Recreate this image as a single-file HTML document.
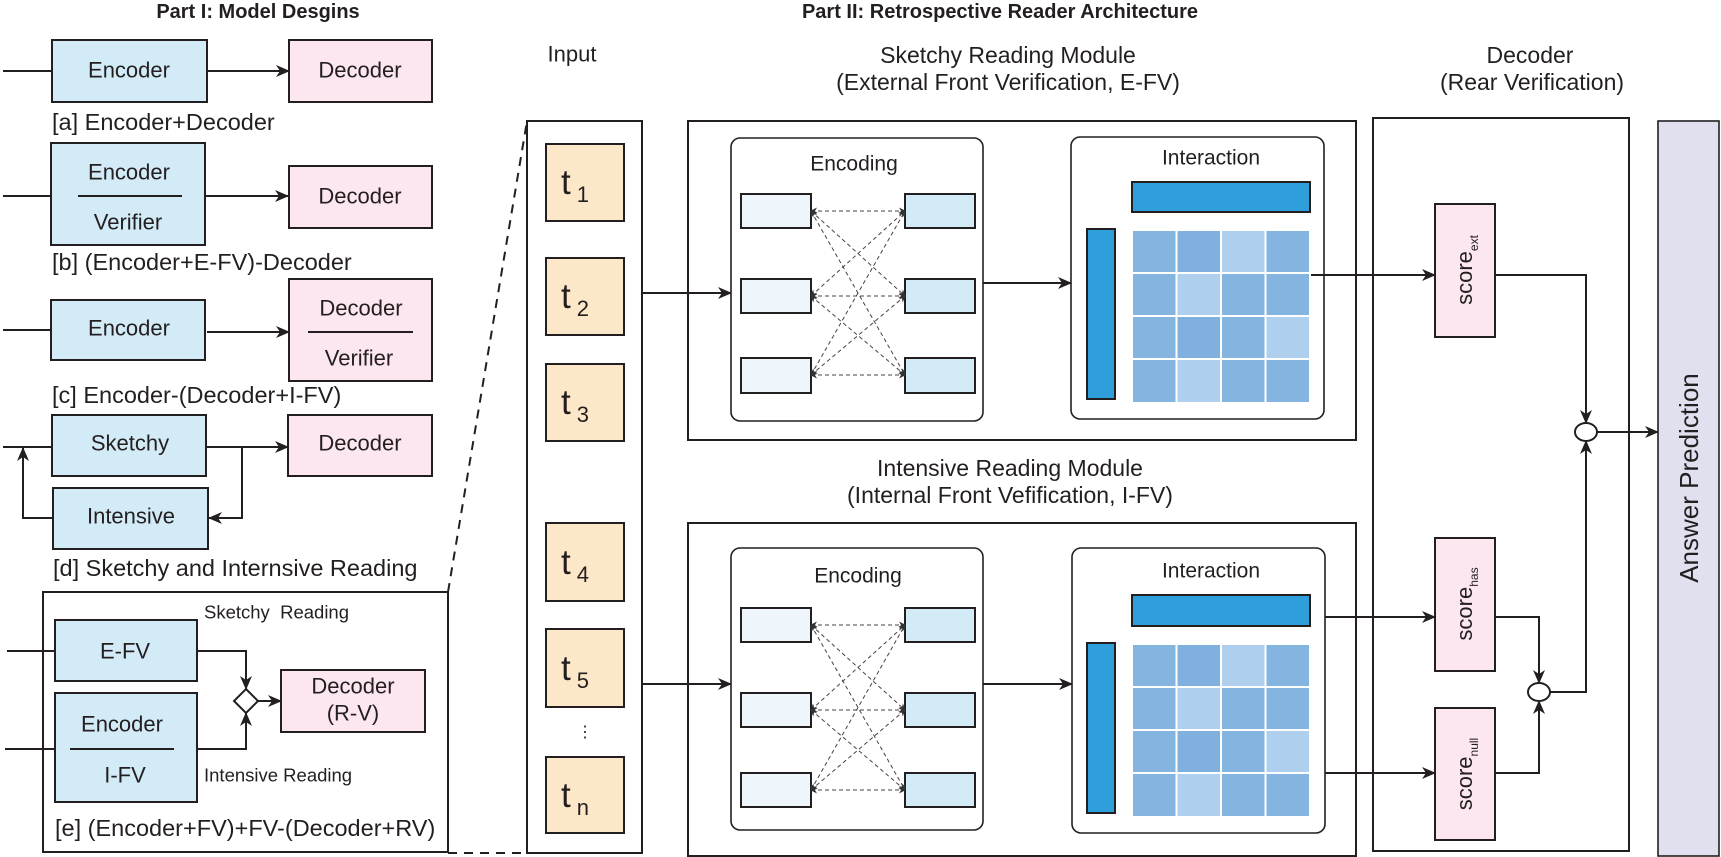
<!DOCTYPE html>
<html><head><meta charset="utf-8"><style>
html,body{margin:0;padding:0;background:#fff}
svg{display:block}
text{font-family:"Liberation Sans",Arial,sans-serif;fill:#231f20}
</style></head><body>
<svg width="1721" height="857" viewBox="0 0 1721 857" xmlns="http://www.w3.org/2000/svg">
<defs>
<marker id="ar" markerUnits="userSpaceOnUse" markerWidth="14" markerHeight="12" refX="13" refY="6" orient="auto">
<path d="M0,0 L14,6 L0,12 L4,6 z" fill="#231f20"/></marker>
<marker id="sm" markerUnits="userSpaceOnUse" markerWidth="7" markerHeight="7" refX="6" refY="3.5" orient="auto-start-reverse">
<path d="M0,0 L7,3.5 L0,7 L2,3.5 z" fill="#333"/></marker>
</defs>
<g stroke="#231f20" stroke-width="2" fill="none">
<line x1="3" y1="71" x2="52" y2="71"/>
<rect x="52" y="40" width="155" height="62" fill="#d3ebf7"/>
<line x1="207" y1="71" x2="289" y2="71" marker-end="url(#ar)"/>
<rect x="289" y="40" width="143" height="62" fill="#fce6f0"/>

<line x1="3" y1="196" x2="51" y2="196"/>
<rect x="51" y="143" width="154" height="102" fill="#d3ebf7"/>
<line x1="78" y1="196" x2="182" y2="196"/>
<line x1="205" y1="196" x2="288" y2="196" marker-end="url(#ar)"/>
<rect x="289" y="166" width="143" height="62" fill="#fce6f0"/>

<line x1="3" y1="330" x2="51" y2="330"/>
<rect x="51" y="300" width="154" height="60" fill="#d3ebf7"/>
<line x1="207" y1="332" x2="289" y2="332" marker-end="url(#ar)"/>
<rect x="289" y="279" width="143" height="102" fill="#fce6f0"/>
<line x1="308" y1="332" x2="413" y2="332"/>

<line x1="3" y1="447" x2="52" y2="447"/>
<rect x="52" y="415" width="154" height="61" fill="#d3ebf7"/>
<line x1="206" y1="447" x2="288" y2="447" marker-end="url(#ar)"/>
<rect x="288" y="415" width="144" height="61" fill="#fce6f0"/>
<rect x="53" y="488" width="155" height="61" fill="#d3ebf7"/>
<polyline points="242,447 242,518 209,518" marker-end="url(#ar)"/>
<polyline points="53,518 23,518 23,448" marker-end="url(#ar)"/>

<rect x="43" y="592" width="405" height="260"/>
<line x1="7" y1="651" x2="55" y2="651"/>
<line x1="5" y1="749" x2="55" y2="749"/>
<rect x="55" y="620" width="142" height="61" fill="#d3ebf7"/>
<rect x="55" y="693" width="142" height="109" fill="#d3ebf7"/>
<line x1="70" y1="749" x2="174" y2="749"/>
<polyline points="197,651 246,651 246,689" marker-end="url(#ar)"/>
<polyline points="197,749 246,749 246,713" marker-end="url(#ar)"/>
<polygon points="246,689 258,701 246,713 234,701" fill="#fff"/>
<line x1="258" y1="701" x2="281" y2="701" marker-end="url(#ar)"/>
<rect x="281" y="670" width="144" height="62" fill="#fce6f0"/>

<line x1="448" y1="592" x2="527" y2="121" stroke-dasharray="9,7"/>
<line x1="448" y1="853" x2="527" y2="853" stroke-dasharray="9,7"/>

<rect x="527" y="121" width="115" height="732"/>
<g fill="#fce8c8">
<rect x="546" y="144" width="78" height="77"/>
<rect x="546" y="258" width="78" height="77"/>
<rect x="546" y="364" width="78" height="77"/>
<rect x="546" y="523" width="78" height="78"/>
<rect x="546" y="629" width="78" height="78"/>
<rect x="546" y="757" width="78" height="76"/>
</g>

<rect x="688" y="121" width="668" height="319"/>
<rect x="688" y="523" width="668" height="333"/>
<line x1="642" y1="293" x2="731" y2="293" marker-end="url(#ar)"/>
<line x1="642" y1="684" x2="731" y2="684" marker-end="url(#ar)"/>
<rect x="731" y="138" width="252" height="283" rx="9" stroke-width="1.6"/>
<rect x="731" y="548" width="252" height="282" rx="9" stroke-width="1.6"/>
<line x1="983" y1="283" x2="1071" y2="283" marker-end="url(#ar)"/>
<line x1="983" y1="684" x2="1072" y2="684" marker-end="url(#ar)"/>
<rect x="1071" y="137" width="253" height="282" rx="9" stroke-width="1.6"/>
<rect x="1072" y="548" width="253" height="285" rx="9" stroke-width="1.6"/>

<g fill="#eef6fc">
<rect x="741" y="194" width="70" height="34"/><rect x="741" y="279" width="70" height="34"/><rect x="741" y="358" width="70" height="35"/>
<rect x="741" y="608" width="70" height="34"/><rect x="741" y="693" width="70" height="34"/><rect x="741" y="773" width="70" height="34"/>
</g>
<g fill="#d3ebf7">
<rect x="905" y="194" width="70" height="34"/><rect x="905" y="279" width="70" height="34"/><rect x="905" y="358" width="70" height="35"/>
<rect x="905" y="608" width="70" height="34"/><rect x="905" y="693" width="70" height="34"/><rect x="905" y="773" width="70" height="34"/>
</g>
<g fill="#2e9fda">
<rect x="1132" y="182" width="178" height="30"/><rect x="1087" y="229" width="28" height="170"/>
<rect x="1132" y="595" width="178" height="31"/><rect x="1087" y="643" width="28" height="170"/>
</g>

<rect x="1373" y="118" width="256" height="733"/>
<rect x="1435" y="204" width="60" height="133" fill="#fce6f0"/>
<rect x="1435" y="538" width="60" height="133" fill="#fce6f0"/>
<rect x="1435" y="708" width="60" height="132" fill="#fce6f0"/>
<line x1="1310" y1="275" x2="1435" y2="275" marker-end="url(#ar)"/>
<line x1="1325" y1="617" x2="1435" y2="617" marker-end="url(#ar)"/>
<line x1="1325" y1="773" x2="1435" y2="773" marker-end="url(#ar)"/>
<polyline points="1495,275 1586,275 1586,423" marker-end="url(#ar)"/>
<polyline points="1495,617 1539,617 1539,683" marker-end="url(#ar)"/>
<polyline points="1495,773 1539,773 1539,701" marker-end="url(#ar)"/>
<polyline points="1550,692 1586,692 1586,441" marker-end="url(#ar)"/>
<ellipse cx="1586" cy="432" rx="11" ry="9" fill="#fff"/>
<ellipse cx="1539" cy="692" rx="11" ry="9" fill="#fff"/>
<line x1="1597" y1="432" x2="1658" y2="432" marker-end="url(#ar)"/>
<rect x="1658" y="121" width="61" height="735" fill="#e0e0ee" stroke-width="1.6"/>
</g>

<g stroke="#444" stroke-width="1" stroke-dasharray="4,3" fill="none">
<line x1="811" y1="211" x2="905" y2="211" marker-start="url(#sm)" marker-end="url(#sm)"/>
<line x1="811" y1="211" x2="905" y2="296" marker-start="url(#sm)" marker-end="url(#sm)"/>
<line x1="811" y1="211" x2="905" y2="375" marker-start="url(#sm)" marker-end="url(#sm)"/>
<line x1="811" y1="296" x2="905" y2="211" marker-start="url(#sm)" marker-end="url(#sm)"/>
<line x1="811" y1="296" x2="905" y2="296" marker-start="url(#sm)" marker-end="url(#sm)"/>
<line x1="811" y1="296" x2="905" y2="375" marker-start="url(#sm)" marker-end="url(#sm)"/>
<line x1="811" y1="375" x2="905" y2="211" marker-start="url(#sm)" marker-end="url(#sm)"/>
<line x1="811" y1="375" x2="905" y2="296" marker-start="url(#sm)" marker-end="url(#sm)"/>
<line x1="811" y1="375" x2="905" y2="375" marker-start="url(#sm)" marker-end="url(#sm)"/>
<line x1="811" y1="625" x2="905" y2="625" marker-start="url(#sm)" marker-end="url(#sm)"/>
<line x1="811" y1="625" x2="905" y2="710" marker-start="url(#sm)" marker-end="url(#sm)"/>
<line x1="811" y1="625" x2="905" y2="790" marker-start="url(#sm)" marker-end="url(#sm)"/>
<line x1="811" y1="710" x2="905" y2="625" marker-start="url(#sm)" marker-end="url(#sm)"/>
<line x1="811" y1="710" x2="905" y2="710" marker-start="url(#sm)" marker-end="url(#sm)"/>
<line x1="811" y1="710" x2="905" y2="790" marker-start="url(#sm)" marker-end="url(#sm)"/>
<line x1="811" y1="790" x2="905" y2="625" marker-start="url(#sm)" marker-end="url(#sm)"/>
<line x1="811" y1="790" x2="905" y2="710" marker-start="url(#sm)" marker-end="url(#sm)"/>
<line x1="811" y1="790" x2="905" y2="790" marker-start="url(#sm)" marker-end="url(#sm)"/>
</g>

<g stroke="#fff" stroke-width="2">
<rect x="1132" y="230" width="44.5" height="43" fill="#84b4e0"/><rect x="1176.5" y="230" width="44.5" height="43" fill="#80b1de"/><rect x="1221" y="230" width="44.5" height="43" fill="#aecfee"/><rect x="1265.5" y="230" width="44.5" height="43" fill="#84b4e0"/>
<rect x="1132" y="273" width="44.5" height="43" fill="#84b4e0"/><rect x="1176.5" y="273" width="44.5" height="43" fill="#aecfee"/><rect x="1221" y="273" width="44.5" height="43" fill="#84b4e0"/><rect x="1265.5" y="273" width="44.5" height="43" fill="#84b4e0"/>
<rect x="1132" y="316" width="44.5" height="43" fill="#84b4e0"/><rect x="1176.5" y="316" width="44.5" height="43" fill="#80b1de"/><rect x="1221" y="316" width="44.5" height="43" fill="#84b4e0"/><rect x="1265.5" y="316" width="44.5" height="43" fill="#aecfee"/>
<rect x="1132" y="359" width="44.5" height="44" fill="#84b4e0"/><rect x="1176.5" y="359" width="44.5" height="44" fill="#aecfee"/><rect x="1221" y="359" width="44.5" height="44" fill="#84b4e0"/><rect x="1265.5" y="359" width="44.5" height="44" fill="#84b4e0"/>

<rect x="1132" y="644" width="44.5" height="43" fill="#84b4e0"/><rect x="1176.5" y="644" width="44.5" height="43" fill="#80b1de"/><rect x="1221" y="644" width="44.5" height="43" fill="#aecfee"/><rect x="1265.5" y="644" width="44.5" height="43" fill="#84b4e0"/>
<rect x="1132" y="687" width="44.5" height="43" fill="#84b4e0"/><rect x="1176.5" y="687" width="44.5" height="43" fill="#aecfee"/><rect x="1221" y="687" width="44.5" height="43" fill="#84b4e0"/><rect x="1265.5" y="687" width="44.5" height="43" fill="#84b4e0"/>
<rect x="1132" y="730" width="44.5" height="43" fill="#84b4e0"/><rect x="1176.5" y="730" width="44.5" height="43" fill="#80b1de"/><rect x="1221" y="730" width="44.5" height="43" fill="#84b4e0"/><rect x="1265.5" y="730" width="44.5" height="43" fill="#aecfee"/>
<rect x="1132" y="773" width="44.5" height="44" fill="#84b4e0"/><rect x="1176.5" y="773" width="44.5" height="44" fill="#aecfee"/><rect x="1221" y="773" width="44.5" height="44" fill="#84b4e0"/><rect x="1265.5" y="773" width="44.5" height="44" fill="#84b4e0"/>
</g>

<g font-size="23.5" dominant-baseline="central">
<text x="258" y="12" text-anchor="middle" font-weight="bold" font-size="20">Part I: Model Desgins</text>
<text x="1000" y="12" text-anchor="middle" font-weight="bold" font-size="20">Part II: Retrospective Reader Architecture</text>

<text x="129" y="70" text-anchor="middle" font-size="22">Encoder</text>
<text x="360" y="70" text-anchor="middle" font-size="22">Decoder</text>
<text x="52" y="122">[a] Encoder+Decoder</text>
<text x="129" y="172" text-anchor="middle" font-size="22">Encoder</text>
<text x="128" y="222" text-anchor="middle" font-size="22">Verifier</text>
<text x="360" y="196" text-anchor="middle" font-size="22">Decoder</text>
<text x="52" y="262">[b] (Encoder+E-FV)-Decoder</text>
<text x="129" y="328" text-anchor="middle" font-size="22">Encoder</text>
<text x="361" y="308" text-anchor="middle" font-size="22">Decoder</text>
<text x="359" y="358" text-anchor="middle" font-size="22">Verifier</text>
<text x="52" y="395">[c] Encoder-(Decoder+I-FV)</text>
<text x="130" y="443" text-anchor="middle" font-size="22">Sketchy</text>
<text x="360" y="443" text-anchor="middle" font-size="22">Decoder</text>
<text x="131" y="516" text-anchor="middle" font-size="22">Intensive</text>
<text x="53" y="568">[d] Sketchy and Internsive Reading</text>
<text x="204" y="612" font-size="18.5" xml:space="preserve">Sketchy  Reading</text>
<text x="125" y="651" text-anchor="middle" font-size="22">E-FV</text>
<text x="122" y="724" text-anchor="middle" font-size="22">Encoder</text>
<text x="125" y="775" text-anchor="middle" font-size="22">I-FV</text>
<text x="353" y="686" text-anchor="middle" font-size="22">Decoder</text>
<text x="353" y="713" text-anchor="middle" font-size="22">(R-V)</text>
<text x="204" y="775" font-size="18.5">Intensive Reading</text>
<text x="55" y="828">[e] (Encoder+FV)+FV-(Decoder+RV)</text>

<text x="572" y="54" text-anchor="middle" font-size="22">Input</text>
<text x="1008" y="55" text-anchor="middle" font-size="23">Sketchy Reading Module</text>
<text x="1008" y="82" text-anchor="middle" font-size="23">(External Front Verification, E-FV)</text>
<text x="1010" y="468" text-anchor="middle" font-size="23">Intensive Reading Module</text>
<text x="1010" y="495" text-anchor="middle" font-size="23">(Internal Front Vefification, I-FV)</text>
<text x="1530" y="55" text-anchor="middle" font-size="23">Decoder</text>
<text x="1532" y="82" text-anchor="middle" font-size="23">(Rear Verification)</text>
<text x="854" y="164" text-anchor="middle" font-size="21">Encoding</text>
<text x="858" y="576" text-anchor="middle" font-size="21">Encoding</text>
<text x="1211" y="158" text-anchor="middle" font-size="21">Interaction</text>
<text x="1211" y="571" text-anchor="middle" font-size="21">Interaction</text>
</g>
<g font-size="35">
<text x="575" y="194" text-anchor="middle">t<tspan font-size="22" dy="8"> 1</tspan></text>
<text x="575" y="308" text-anchor="middle">t<tspan font-size="22" dy="8"> 2</tspan></text>
<text x="575" y="414" text-anchor="middle">t<tspan font-size="22" dy="8"> 3</tspan></text>
<text x="575" y="574" text-anchor="middle">t<tspan font-size="22" dy="8"> 4</tspan></text>
<text x="575" y="680" text-anchor="middle">t<tspan font-size="22" dy="8"> 5</tspan></text>
<text x="575" y="807" text-anchor="middle">t<tspan font-size="22" dy="8"> n</tspan></text>
<text x="585" y="737" text-anchor="middle" font-size="16">⋮</text>
</g>
<g font-size="22">
<text transform="rotate(-90 1472 270)" x="1472" y="270" text-anchor="middle">score<tspan font-size="12" dy="6">ext</tspan></text>
<text transform="rotate(-90 1472 604)" x="1472" y="604" text-anchor="middle">score<tspan font-size="12" dy="6">has</tspan></text>
<text transform="rotate(-90 1472 774)" x="1472" y="774" text-anchor="middle">score<tspan font-size="12" dy="6">null</tspan></text>
<text transform="rotate(-90 1698 478)" x="1698" y="478" text-anchor="middle" fill="#333" font-size="26">Answer Prediction</text>
</g>
</svg>
</body></html>
